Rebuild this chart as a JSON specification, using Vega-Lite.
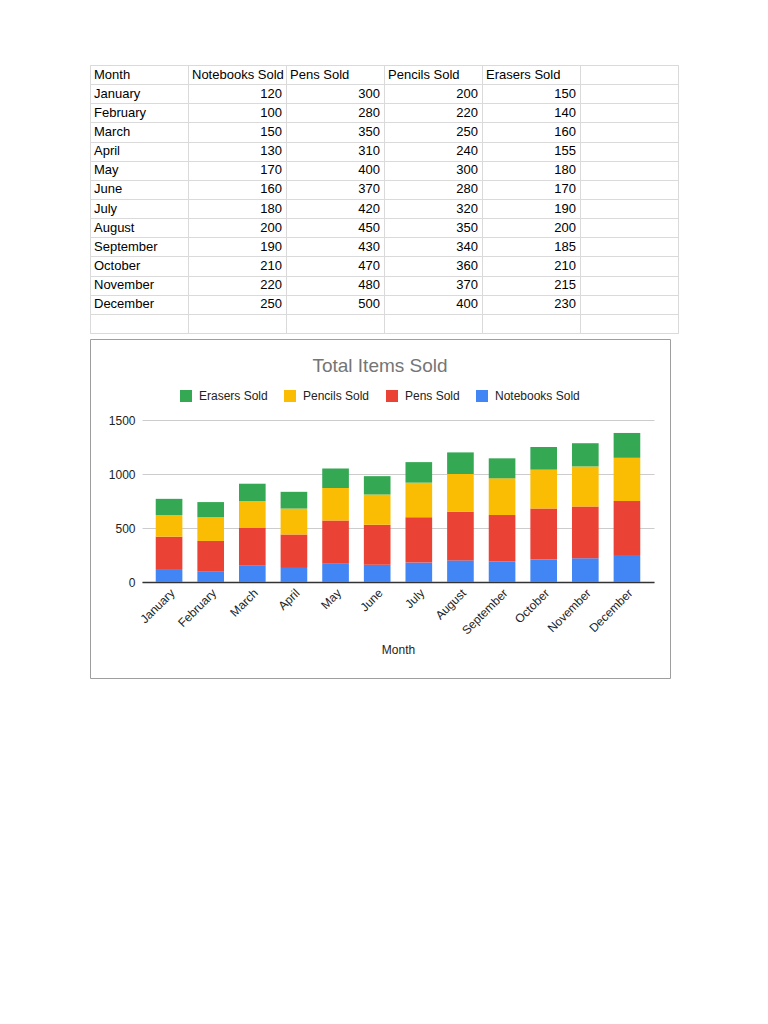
{
  "$schema": "https://vega.github.io/schema/vega-lite/v6.json",
  "background": "white",
  "padding": {"left": 89, "top": 64, "right": 0, "bottom": 0},
  "spacing": 4,
  "resolve": {"legend": {"color": "independent"}},
  "config": {
    "font": "Liberation Sans",
    "view": {"stroke": null}
  },
  "datasets": {
    "sales": [
      {"Month": "January", "Notebooks Sold": 120, "Pens Sold": 300, "Pencils Sold": 200, "Erasers Sold": 150},
      {"Month": "February", "Notebooks Sold": 100, "Pens Sold": 280, "Pencils Sold": 220, "Erasers Sold": 140},
      {"Month": "March", "Notebooks Sold": 150, "Pens Sold": 350, "Pencils Sold": 250, "Erasers Sold": 160},
      {"Month": "April", "Notebooks Sold": 130, "Pens Sold": 310, "Pencils Sold": 240, "Erasers Sold": 155},
      {"Month": "May", "Notebooks Sold": 170, "Pens Sold": 400, "Pencils Sold": 300, "Erasers Sold": 180},
      {"Month": "June", "Notebooks Sold": 160, "Pens Sold": 370, "Pencils Sold": 280, "Erasers Sold": 170},
      {"Month": "July", "Notebooks Sold": 180, "Pens Sold": 420, "Pencils Sold": 320, "Erasers Sold": 190},
      {"Month": "August", "Notebooks Sold": 200, "Pens Sold": 450, "Pencils Sold": 350, "Erasers Sold": 200},
      {"Month": "September", "Notebooks Sold": 190, "Pens Sold": 430, "Pencils Sold": 340, "Erasers Sold": 185},
      {"Month": "October", "Notebooks Sold": 210, "Pens Sold": 470, "Pencils Sold": 360, "Erasers Sold": 210},
      {"Month": "November", "Notebooks Sold": 220, "Pens Sold": 480, "Pencils Sold": 370, "Erasers Sold": 215},
      {"Month": "December", "Notebooks Sold": 250, "Pens Sold": 500, "Pencils Sold": 400, "Erasers Sold": 230}
    ],
    "headers": [
      {"col": "Month"},
      {"col": "Notebooks Sold"},
      {"col": "Pens Sold"},
      {"col": "Pencils Sold"},
      {"col": "Erasers Sold"}
    ]
  },
  "vconcat": [
    {
      "width": 588,
      "height": 268,
      "view": {"stroke": "#dadada"},
      "data": {"name": "sales"},
      "layer": [
        {
          "data": {"name": "headers"},
          "mark": {"type": "text", "align": "left", "dx": -45, "baseline": "middle", "fontSize": 13, "color": "#000", "font": "Liberation Sans"},
          "encoding": {
            "x": {"field": "col", "type": "nominal",
              "scale": {"domain": ["Month", "Notebooks Sold", "Pens Sold", "Pencils Sold", "Erasers Sold", " "], "paddingInner": 0, "paddingOuter": 0},
              "axis": {"grid": true, "tickBand": "extent", "labels": false, "ticks": false, "domain": false, "title": null, "gridColor": "#dadada", "orient": "top"}},
            "y": {"datum": "Month", "type": "nominal",
              "scale": {"domain": ["Month", "January", "February", "March", "April", "May", "June", "July", "August", "September", "October", "November", "December", " "], "paddingInner": 0, "paddingOuter": 0},
              "axis": {"grid": true, "tickBand": "extent", "labels": false, "ticks": false, "domain": false, "title": null, "gridColor": "#dadada"}},
            "text": {"field": "col"}
          }
        },
        {
          "mark": {"type": "text", "align": "left", "dx": -45, "baseline": "middle", "fontSize": 13, "color": "#000", "font": "Liberation Sans"},
          "encoding": {
            "x": {"datum": "Month", "type": "nominal"},
            "y": {"field": "Month", "type": "nominal"},
            "text": {"field": "Month"}
          }
        },
        {
          "transform": [{"fold": ["Notebooks Sold", "Pens Sold", "Pencils Sold", "Erasers Sold"], "as": ["Item", "Sold"]}],
          "mark": {"type": "text", "align": "right", "dx": 45, "baseline": "middle", "fontSize": 13, "color": "#000", "font": "Liberation Sans"},
          "encoding": {
            "x": {"field": "Item", "type": "nominal"},
            "y": {"field": "Month", "type": "nominal"},
            "text": {"field": "Sold", "type": "quantitative"}
          }
        }
      ]
    },
    {
      "width": 580,
      "height": 339,
      "view": {"stroke": "#9e9e9e", "fill": "white"},
      "title": {"text": "Total Items Sold", "fontSize": 19, "fontWeight": "normal", "color": "#757575", "font": "Liberation Sans", "anchor": "middle", "frame": "group", "baseline": "alphabetic", "offset": -52},
      "data": {"name": "sales"},
      "transform": [
        {"fold": ["Notebooks Sold", "Pens Sold", "Pencils Sold", "Erasers Sold"], "as": ["Item", "Sold"]},
        {"calculate": "indexof(['Notebooks Sold','Pens Sold','Pencils Sold','Erasers Sold'], datum.Item)", "as": "stackOrder"}
      ],
      "mark": {"type": "bar"},
      "encoding": {
        "x": {"field": "Month", "type": "ordinal",
          "sort": ["January", "February", "March", "April", "May", "June", "July", "August", "September", "October", "November", "December"],
          "scale": {"range": [52, 564], "paddingInner": 0.36, "paddingOuter": 0.33},
          "axis": {"offset": -96, "labelAngle": -45, "labelFontSize": 12, "labelColor": "#222", "ticks": false, "tickSize": 0, "labelPadding": 5, "domain": true, "domainColor": "#333", "domainWidth": 1.5, "grid": false, "title": "Month", "titleFontSize": 12, "titleFontWeight": "normal", "titleColor": "#222", "titlePadding": 8}},
        "y": {"aggregate": "sum", "field": "Sold", "type": "quantitative", "stack": "zero",
          "scale": {"domain": [0, 1500], "range": [243, 81], "nice": false},
          "axis": {"orient": "left", "offset": -52, "values": [0, 500, 1000, 1500], "format": "d", "labelFontSize": 12, "labelColor": "#222", "ticks": false, "tickSize": 0, "labelPadding": 7, "domain": false, "grid": true, "gridColor": "#cccccc", "title": null}},
        "color": {"field": "Item", "type": "nominal",
          "scale": {"domain": ["Erasers Sold", "Pencils Sold", "Pens Sold", "Notebooks Sold"], "range": ["#34A853", "#FBBC04", "#EA4335", "#4285F4"]},
          "legend": {"orient": "none", "legendX": 90, "legendY": 51, "direction": "horizontal", "title": null, "symbolType": "square", "symbolSize": 144, "symbolStrokeWidth": 0, "labelFontSize": 12, "labelColor": "#222", "columnPadding": 16, "labelOffset": 7, "padding": 0}},
        "order": {"field": "stackOrder", "type": "quantitative"}
      }
    }
  ]
}
